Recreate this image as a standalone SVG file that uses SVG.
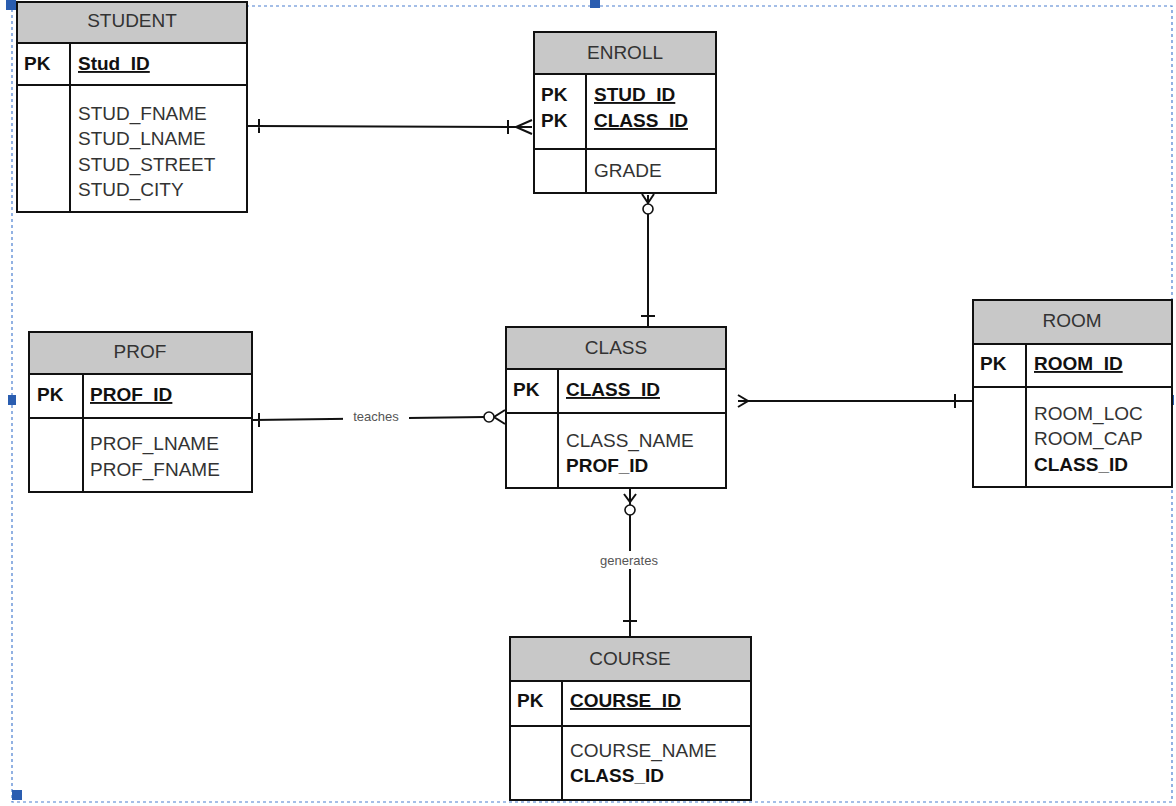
<svg xmlns="http://www.w3.org/2000/svg" width="1176" height="806" viewBox="0 0 1176 806">
<style>
.box{fill:#fff;stroke:#111;stroke-width:2}
.hd{fill:#c8c8c8;stroke:#111;stroke-width:2}
.ln{stroke:#111;stroke-width:2;fill:none}
text{font-family:"Liberation Sans",Arial,sans-serif;font-size:19px;fill:#333}
.t{text-anchor:middle;fill:#333}
.b{font-weight:bold;fill:#111}
.u{text-decoration:underline}
.lbl{font-size:13px;fill:#555;text-anchor:middle}
.c{stroke:#111;stroke-width:2;fill:none}
.o{fill:#fff;stroke:#111;stroke-width:1.6}
.h{fill:#2a5db0}
</style>
<rect x="12" y="6" width="1160" height="796" fill="none" stroke="#4a7fd0" stroke-width="1.2" stroke-dasharray="3,3"/>
<g id="handles">
<rect class="h" x="6" y="0" width="10" height="10"/><rect class="h" x="590" y="0" width="10" height="8"/>
<rect class="h" x="8" y="395" width="8" height="10"/><rect class="h" x="1164" y="395" width="10" height="10"/>
<rect class="h" x="12" y="790" width="10" height="10"/><rect class="h" x="590" y="790" width="10" height="10"/>
</g>
<g id="student">
<rect class="box" x="17" y="2" width="230" height="210"/>
<rect class="hd" x="17" y="2" width="230" height="41"/>
<line class="ln" x1="17" y1="85" x2="247" y2="85"/><line class="ln" x1="70" y1="43" x2="70" y2="212"/>
<text class="t" x="132" y="27">STUDENT</text>
<text class="b" x="24" y="70">PK</text><text class="b u" x="78" y="70">Stud_ID</text>
<text x="78" y="120">STUD_FNAME</text><text x="78" y="145">STUD_LNAME</text><text x="78" y="171">STUD_STREET</text><text x="78" y="196">STUD_CITY</text>
</g>
<g id="enroll">
<rect class="box" x="534" y="32" width="182" height="161"/>
<rect class="hd" x="534" y="32" width="182" height="42"/>
<line class="ln" x1="534" y1="149" x2="716" y2="149"/><line class="ln" x1="586" y1="74" x2="586" y2="193"/>
<text class="t" x="625" y="59">ENROLL</text>
<text class="b" x="541" y="101">PK</text><text class="b u" x="594" y="101">STUD_ID</text>
<text class="b" x="541" y="127">PK</text><text class="b u" x="594" y="127">CLASS_ID</text>
<text x="594" y="177">GRADE</text>
</g>
<g id="prof">
<rect class="box" x="29" y="332" width="223" height="160"/>
<rect class="hd" x="29" y="332" width="223" height="42"/>
<line class="ln" x1="29" y1="418" x2="252" y2="418"/><line class="ln" x1="83" y1="374" x2="83" y2="492"/>
<text class="t" x="140" y="358">PROF</text>
<text class="b" x="37" y="401">PK</text><text class="b u" x="90" y="401">PROF_ID</text>
<text x="90" y="450">PROF_LNAME</text><text x="90" y="476">PROF_FNAME</text>
</g>
<g id="class">
<rect class="box" x="506" y="327" width="220" height="161"/>
<rect class="hd" x="506" y="327" width="220" height="42"/>
<line class="ln" x1="506" y1="413" x2="726" y2="413"/><line class="ln" x1="558" y1="369" x2="558" y2="488"/>
<text class="t" x="616" y="354">CLASS</text>
<text class="b" x="513" y="396">PK</text><text class="b u" x="566" y="396">CLASS_ID</text>
<text x="566" y="447">CLASS_NAME</text><text class="b" x="566" y="472">PROF_ID</text>
</g>
<g id="room">
<rect class="box" x="973" y="300" width="199" height="187"/>
<rect class="hd" x="973" y="300" width="199" height="44"/>
<line class="ln" x1="973" y1="387" x2="1172" y2="387"/><line class="ln" x1="1026" y1="344" x2="1026" y2="487"/>
<text class="t" x="1072" y="327">ROOM</text>
<text class="b" x="980" y="370">PK</text><text class="b u" x="1034" y="370">ROOM_ID</text>
<text x="1034" y="420">ROOM_LOC</text><text x="1034" y="445">ROOM_CAP</text><text class="b" x="1034" y="471">CLASS_ID</text>
</g>
<g id="course">
<rect class="box" x="510" y="637" width="241" height="163"/>
<rect class="hd" x="510" y="637" width="241" height="44"/>
<line class="ln" x1="510" y1="726" x2="751" y2="726"/><line class="ln" x1="562" y1="681" x2="562" y2="800"/>
<text class="t" x="630" y="665">COURSE</text>
<text class="b" x="517" y="707">PK</text><text class="b u" x="570" y="707">COURSE_ID</text>
<text x="570" y="757">COURSE_NAME</text><text class="b" x="570" y="782">CLASS_ID</text>
</g>
<g id="connectors">
<path class="c" d="M247 126 L532 127 M259 119 V133 M508 120 V134 M532 120 L516 127 L532 134"/>
<path class="c" d="M648 195 V327 M641 316 H655 M642 194 L648 203 L654 194"/>
<circle class="o" cx="648" cy="209" r="5"/>
<path class="c" d="M252 420 L485 417 M259 413 V427 M505 410 L494 417 L505 424"/>
<rect x="343" y="410" width="66" height="14" fill="#fff"/>
<text class="lbl" x="376" y="421">teaches</text>
<circle class="o" cx="489" cy="417" r="5"/>
<path class="c" d="M738 401 H973 M955 394 V408 M738 395 L748 401 L738 407"/>
<path class="c" d="M630 488 V637 M623 621 H637 M624 494 L630 502 L636 494"/>
<circle class="o" cx="630" cy="510" r="5"/>
<rect x="588" y="551" width="82" height="18" fill="#fff"/>
<text class="lbl" x="629" y="565">generates</text>
</g>
</svg>
